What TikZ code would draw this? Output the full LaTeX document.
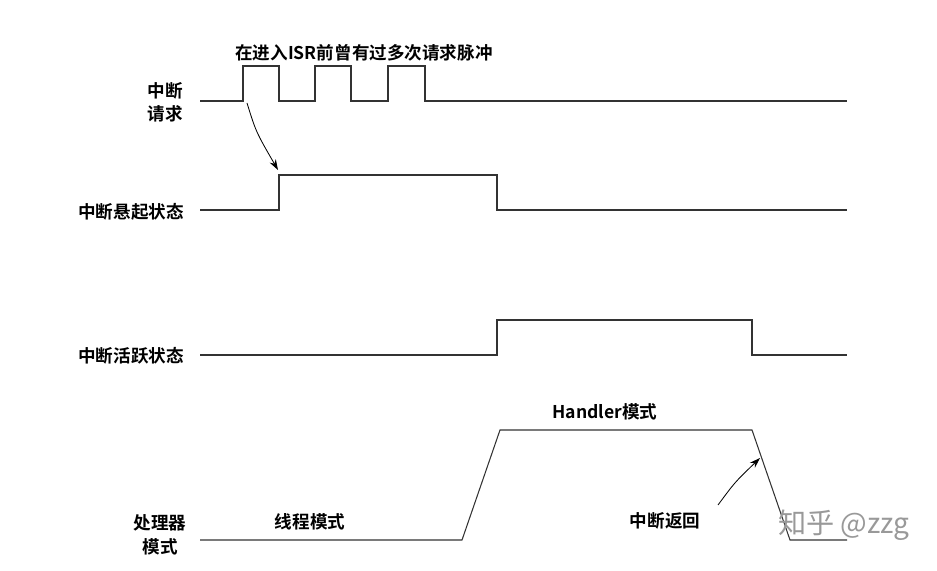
\documentclass[tikz,border=0pt]{standalone}
\usepackage{fontspec}
\newfontfamily\cjk{Noto Sans CJK SC}
\newfontfamily\cjkb{Noto Sans CJK SC Bold}
\usetikzlibrary{arrows.meta}
\begin{document}
\begin{tikzpicture}[x=0.03cm,y=-0.03cm,
  sig/.style={line width=0.9pt,black!80},
  lbl/.style={font=\cjkb\fontsize{15}{20}\selectfont,align=center,inner sep=0pt},
  arr/.style={line width=0.7pt,-{Stealth[length=9pt,width=6pt]}}]
\useasboundingbox (0,0) rectangle (937,571);
% signal 1
\draw[sig] (200,101) -| (243,66) -| (279,101) -| (315,66) -| (351,101) -| (388,66) -| (425,101) -- (847,101);
\node[lbl] (req) at (165,102) {中断\\请求};
\node[lbl] (top) at (364,53) {在进入ISR前曾有过多次请求脉冲};
\coordinate (a1) at (247,103);
\coordinate (a2) at (278,170);
\draw[arr] (a1) .. controls (256,132) .. (a2);
% signal 2
\draw[sig] (200,210) -| (279,175) -| (497,210) -- (847,210);
\node[lbl,anchor=east] (pend) at (184,212) {中断悬起状态};
% signal 3
\draw[sig] (200,355) -| (497,320) -| (752,355) -- (847,355);
\node[lbl,anchor=east] (act) at (184,356) {中断活跃状态};
% signal 4
\draw[sig] (200,540) -- (462,540) -- (500,430) -- (752,430) -- (790,540) -- (847,540);
\node[lbl] (proc) at (160,535) {处理器\\模式};
\node[lbl] (thr) at (310,522) {线程模式};
\node[lbl] (hdl) at (605,412) {Handler模式};
\node[lbl] (ret) at (665,521) {中断返回};
\coordinate (b1) at (718,505);
\coordinate (b2) at (760,458);
\draw[arr] (b1) .. controls (735,482) .. (b2);
\node[font=\cjk\fontsize{24}{24}\selectfont,text=black!40,anchor=west,inner sep=0pt] (wm) at (778,525) {知乎 @zzg};
\end{tikzpicture}
\end{document}
